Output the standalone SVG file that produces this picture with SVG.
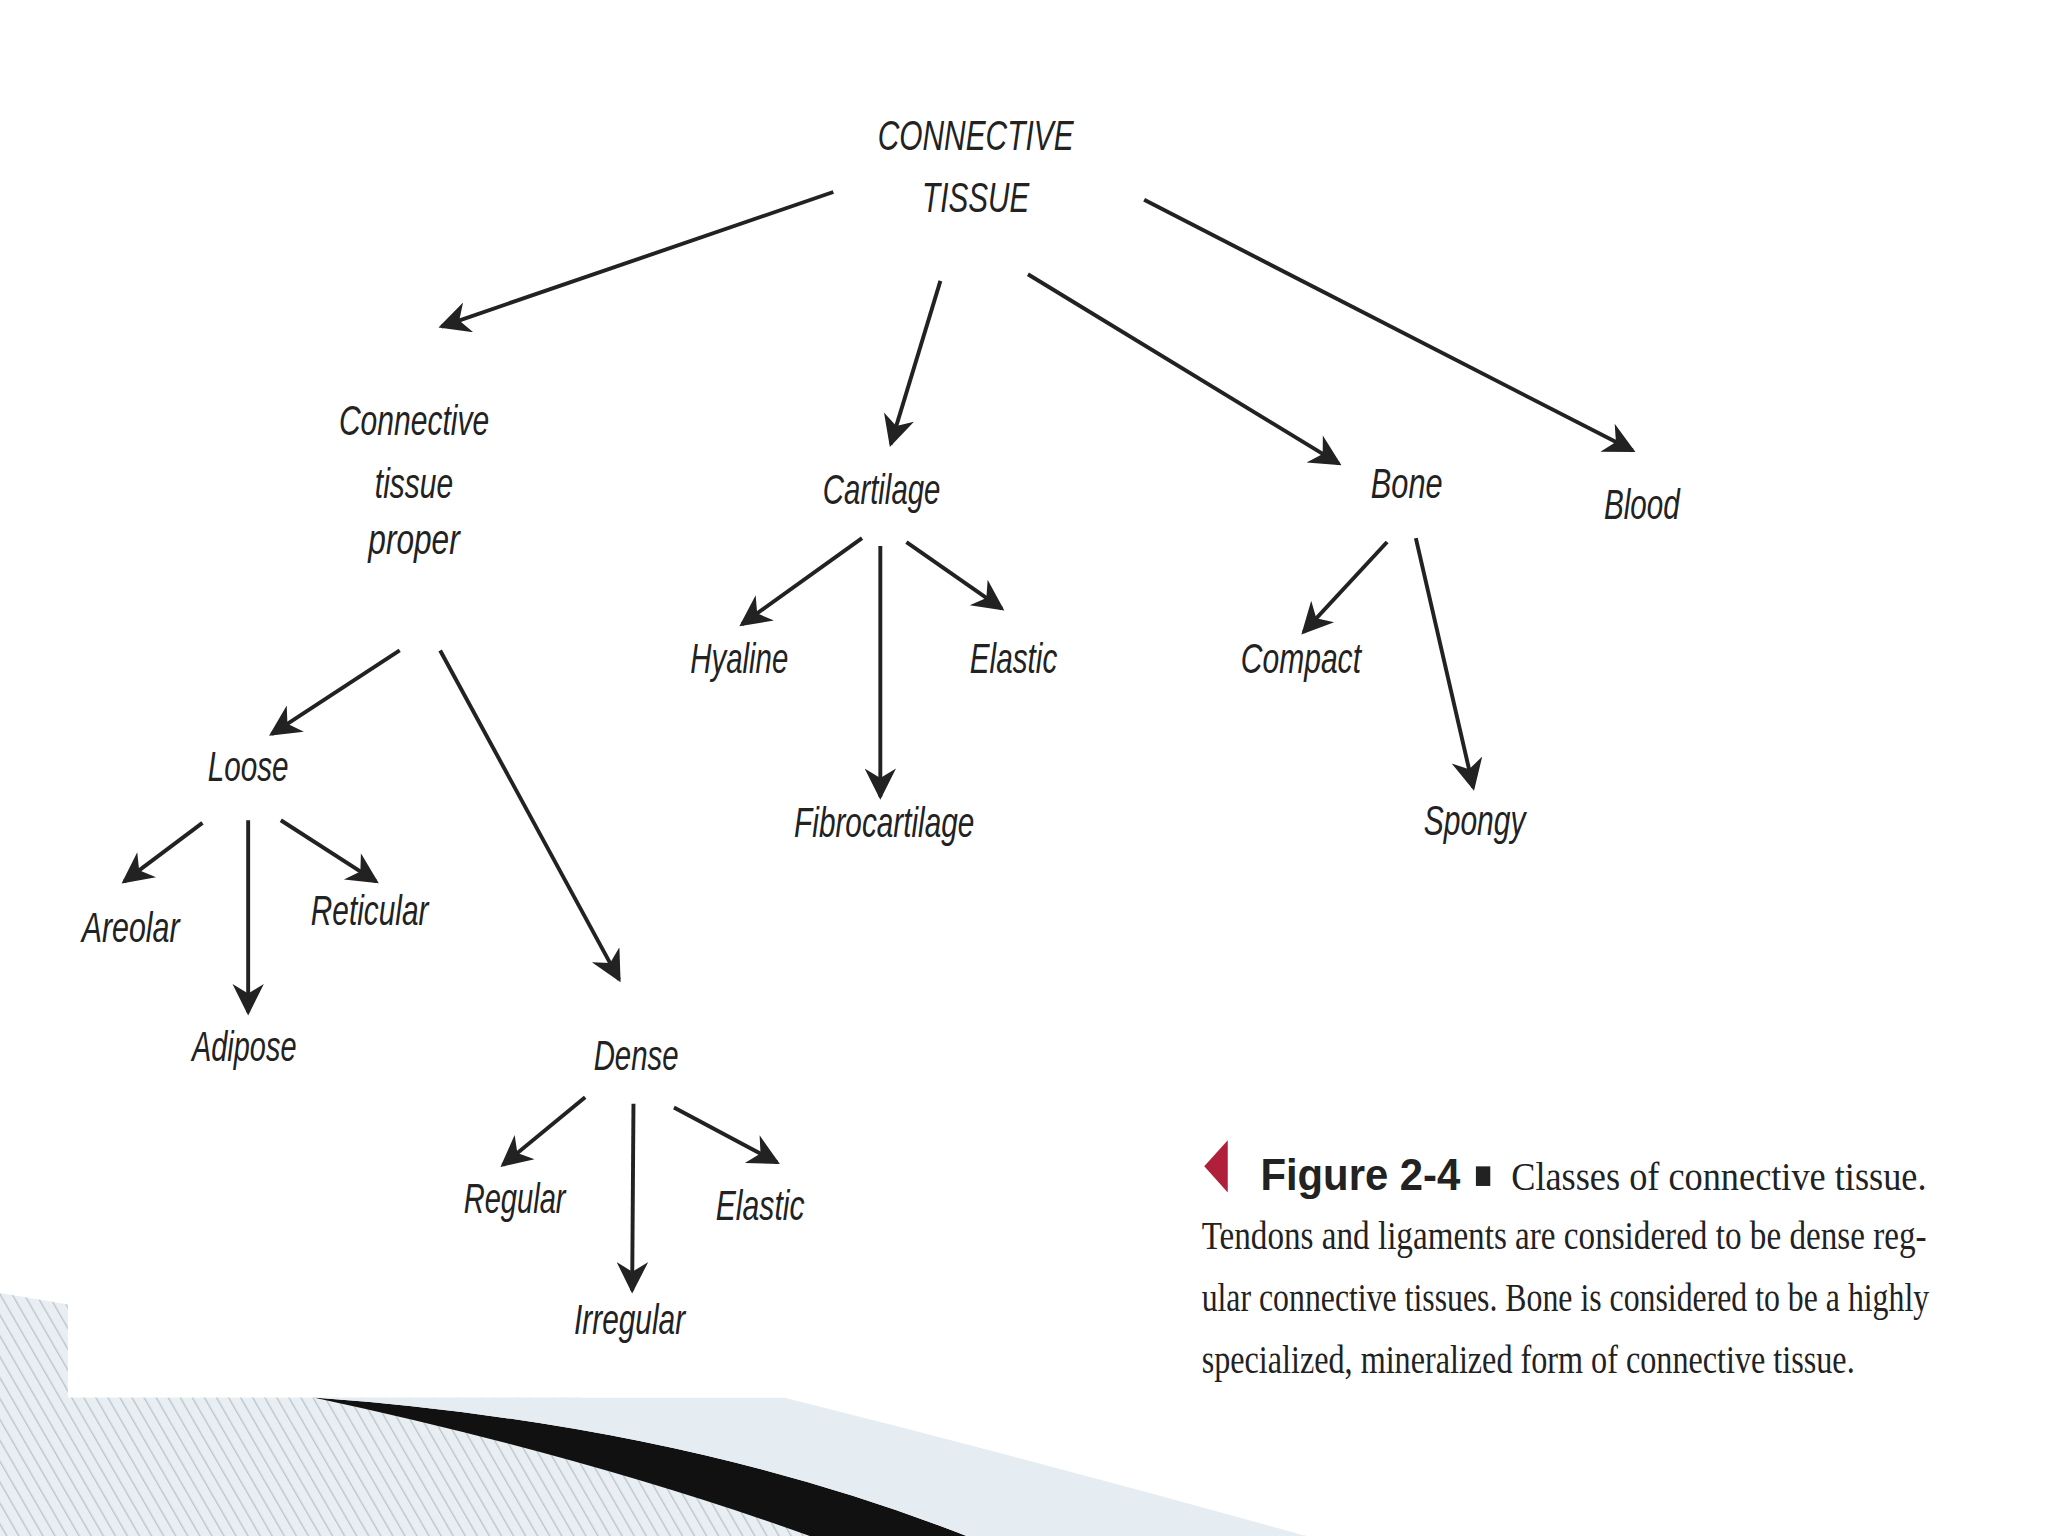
<svg xmlns="http://www.w3.org/2000/svg" width="2048" height="1536" viewBox="0 0 2048 1536">
<defs>
<style>
.l{font-family:"Liberation Sans",Arial,sans-serif;font-style:italic;font-size:32px;fill:#222;text-anchor:middle}
.c{stroke:#222;stroke-width:3;fill:none;marker-end:url(#ah)}
.cap{font-family:"Liberation Serif","Times New Roman",serif;font-size:31px;fill:#222}
</style>
<marker id="ah" viewBox="0 0 20 20" refX="18" refY="10" markerWidth="30" markerHeight="24" markerUnits="userSpaceOnUse" orient="auto">
<path d="M0,0 L20,10 L0,20 L6,10 Z" fill="#222"/>
</marker>
<pattern id="hatch" width="8" height="8" patternUnits="userSpaceOnUse" patternTransform="rotate(-30)">
<rect width="8" height="8" fill="#e8eef2"/><line x1="0" y1="0" x2="0" y2="8" stroke="#b8c4cc" stroke-width="2"/>
</pattern>
</defs>
<rect width="2048" height="1536" fill="#fff"/>
<g transform="scale(1.30612)">
<path d="M0,990 Q300,1040 1000,1176 L0,1176 Z" fill="url(#hatch)"/>
<path d="M240,1070 Q520,1090 740,1176 L620,1176 Q450,1115 240,1070 Z" fill="#111"/>
<path d="M740,1176 Q520,1090 240,1070 L600,1070 Q800,1120 1000,1176 Z" fill="#e6edf2"/>
<rect x="52" y="70" width="1450" height="1000" fill="#fff"/>
<g id="connectors">
<line class="c" x1="638" y1="147" x2="338" y2="250"/>
<line class="c" x1="720" y1="215" x2="682" y2="340"/>
<line class="c" x1="787" y1="210" x2="1025" y2="355"/>
<line class="c" x1="876" y1="153" x2="1250" y2="345"/>
<line class="c" x1="660" y1="412" x2="568" y2="478"/>
<line class="c" x1="674" y1="418" x2="674" y2="610"/>
<line class="c" x1="694" y1="415" x2="767" y2="466"/>
<line class="c" x1="1062" y1="415" x2="998" y2="484"/>
<line class="c" x1="1084" y1="412" x2="1128" y2="603"/>
<line class="c" x1="306" y1="498" x2="208" y2="562"/>
<line class="c" x1="337" y1="498" x2="474" y2="750"/>
<line class="c" x1="155" y1="630" x2="95" y2="675"/>
<line class="c" x1="190" y1="628" x2="190" y2="775"/>
<line class="c" x1="215" y1="628" x2="288" y2="675"/>
<line class="c" x1="448" y1="840" x2="385" y2="892"/>
<line class="c" x1="485" y1="845" x2="484" y2="988"/>
<line class="c" x1="516" y1="848" x2="595" y2="890"/>
</g>
<g lengthAdjust="spacingAndGlyphs">
<g id="root"><text class="l" x="747" y="115" textLength="150" lengthAdjust="spacingAndGlyphs">CONNECTIVE</text><text class="l" x="747" y="162" textLength="82" lengthAdjust="spacingAndGlyphs">TISSUE</text></g>
<g id="ctp"><text class="l" x="317" y="333" textLength="115" lengthAdjust="spacingAndGlyphs">Connective</text><text class="l" x="317" y="381" textLength="60" lengthAdjust="spacingAndGlyphs">tissue</text><text class="l" x="317" y="424" textLength="70" lengthAdjust="spacingAndGlyphs">proper</text></g>
<g id="cartilage"><text class="l" x="675" y="386" textLength="90" lengthAdjust="spacingAndGlyphs">Cartilage</text></g>
<g id="bone"><text class="l" x="1077" y="381" textLength="55" lengthAdjust="spacingAndGlyphs">Bone</text></g>
<g id="blood"><text class="l" x="1257" y="397" textLength="58" lengthAdjust="spacingAndGlyphs">Blood</text></g>
<g id="hyaline"><text class="l" x="566" y="515" textLength="75" lengthAdjust="spacingAndGlyphs">Hyaline</text></g>
<g id="elastic1"><text class="l" x="776" y="515" textLength="67" lengthAdjust="spacingAndGlyphs">Elastic</text></g>
<g id="fibro"><text class="l" x="677" y="641" textLength="138" lengthAdjust="spacingAndGlyphs">Fibrocartilage</text></g>
<g id="compact"><text class="l" x="996" y="515" textLength="92" lengthAdjust="spacingAndGlyphs">Compact</text></g>
<g id="spongy"><text class="l" x="1129" y="639" textLength="78" lengthAdjust="spacingAndGlyphs">Spongy</text></g>
<g id="loose"><text class="l" x="190" y="598" textLength="62" lengthAdjust="spacingAndGlyphs">Loose</text></g>
<g id="areolar"><text class="l" x="100" y="721" textLength="75" lengthAdjust="spacingAndGlyphs">Areolar</text></g>
<g id="reticular"><text class="l" x="283" y="708" textLength="90" lengthAdjust="spacingAndGlyphs">Reticular</text></g>
<g id="adipose"><text class="l" x="187" y="812" textLength="80" lengthAdjust="spacingAndGlyphs">Adipose</text></g>
<g id="dense"><text class="l" x="487" y="819" textLength="65" lengthAdjust="spacingAndGlyphs">Dense</text></g>
<g id="regular"><text class="l" x="394" y="929" textLength="78" lengthAdjust="spacingAndGlyphs">Regular</text></g>
<g id="elastic2"><text class="l" x="582" y="934" textLength="68" lengthAdjust="spacingAndGlyphs">Elastic</text></g>
<g id="irregular"><text class="l" x="482" y="1021" textLength="85" lengthAdjust="spacingAndGlyphs">Irregular</text></g>
</g>
<g id="caption">
<path d="M940,873 L922,893 L940,913 Z" fill="#b0203a"/>
<text x="965" y="911" font-family="Liberation Sans,Arial,sans-serif" font-weight="bold" font-size="34" fill="#222" textLength="153" lengthAdjust="spacingAndGlyphs">Figure  2-4</text>
<rect x="1130" y="893" width="11" height="15" fill="#222"/>
<text class="cap" x="1157" y="911" textLength="318" lengthAdjust="spacingAndGlyphs">Classes of connective tissue.</text>
<text class="cap" x="920" y="956" textLength="555" lengthAdjust="spacingAndGlyphs">Tendons and ligaments are considered to be dense reg-</text>
<text class="cap" x="920" y="1004" textLength="557" lengthAdjust="spacingAndGlyphs">ular connective tissues. Bone is considered to be a highly</text>
<text class="cap" x="920" y="1051" textLength="500" lengthAdjust="spacingAndGlyphs">specialized, mineralized form of connective tissue.</text>
</g>
</g>
</svg>
